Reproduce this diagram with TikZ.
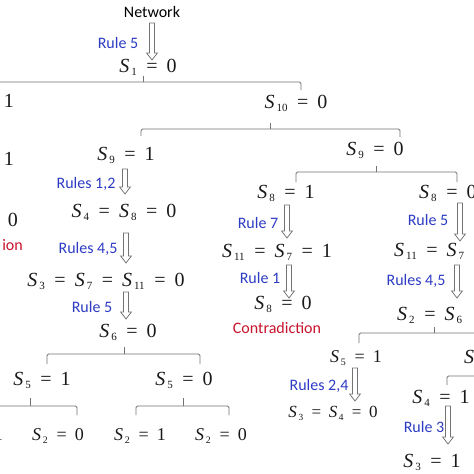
\documentclass[tikz,border=0pt]{standalone}
\usepackage{fontspec}
\setmainfont{Liberation Serif}
\newfontfamily\calfont{Carlito}
\usepackage{graphicx}
\usetikzlibrary{calc}
\definecolor{rulecol}{RGB}{45,60,195}
\definecolor{redc}{RGB}{200,20,45}
\definecolor{lgray}{RGB}{115,115,115}
\definecolor{ink}{RGB}{25,25,25}
\newcommand\Sv[1]{\textit{S}\kern0.1em\raisebox{-0.18em}{\scalebox{0.55}{#1}}}
\newcommand\Eq{\hspace{0.48em}=\hspace{0.45em}}
\begin{document}
\begin{tikzpicture}[x=1pt,y=-1pt,
  m/.style={font=\fontsize{20}{22}\selectfont, text=ink, inner sep=0pt, anchor=base},
  ms/.style={m, font=\fontsize{18}{20}\selectfont},
  mxs/.style={m, font=\fontsize{17}{19}\selectfont},
  lab/.style={font=\calfont\fontsize{16}{18}\selectfont, text=rulecol, inner sep=0pt, anchor=base},
  contra/.style={lab, text=redc},
  br/.style={draw=lgray, line width=0.9pt, rounded corners=1.5pt},
  harrow/.style={draw=lgray, line width=0.75pt, to path={let \p1=(\tikztostart), \p2=(\tikztotarget) in
    (\x2-2.6pt,\y1) -- (\x2-2.6pt,\y2+7pt) -- (\x2-5.4pt,\y2+7pt) -- (\x2,\y2) -- (\x2+5.4pt,\y2+7pt) -- (\x2+2.6pt,\y2+7pt) -- (\x2+2.6pt,\y1) -- cycle}}
]
\useasboundingbox (0,0) rectangle (474,474);
\fill[white] (0,0) rectangle (474,474);

% ---- top ----
\node[lab, text=black] (net) at (152,17) {Network};
\node[lab] (r1) at (118,48) {Rule 5};
\node[m] (s1) at (148,72) {\Sv{1}\Eq 0};
\coordinate (a1t) at (152,23); \coordinate (a1b) at (152,60);
\draw[harrow] (a1t) to (a1b);

% branch under S1
\draw[br] (-40,90) |- (301,82) -- (301,90);
\draw[br] (143,82) -- (143,76);

% ---- left cut column ----
\node[m] (l1) at (9,107) {1};
\node[m] (l2) at (9,165) {1};
\node[m] (l3) at (13,226) {0};
\node[contra, anchor=base east] (cl) at (23,250) {ion};

% ---- S10 = 0 ----
\node[m] (s10) at (296,108) {\Sv{10}\Eq 0};
\draw[br] (141,136) |- (400,129) -- (400,137);
\draw[br] (270,129) -- (270,123);

% ---- left subtree S9 = 1 ----
\node[m] (s9a) at (126,160) {\Sv{9}\Eq 1};
\node[lab] (r2) at (86,188) {Rules 1,2};
\coordinate (a2t) at (125,169); \coordinate (a2b) at (125,194);
\draw[harrow] (a2t) to (a2b);
\node[m] (s4s8) at (124,217) {\Sv{4}\Eq\Sv{8}\Eq 0};
\node[lab] (r3) at (88,253) {Rules 4,5};
\coordinate (a3t) at (126,233); \coordinate (a3b) at (126,263);
\draw[harrow] (a3t) to (a3b);
\node[m] (s3s7) at (106,286) {\Sv{3}\Eq\Sv{7}\Eq\Sv{11}\Eq 0};
\node[lab] (r4) at (92,312) {Rule 5};
\coordinate (a4t) at (126,292); \coordinate (a4b) at (126,319);
\draw[harrow] (a4t) to (a4b);
\node[m] (s6) at (128,337) {\Sv{6}\Eq 0};
\draw[br] (47,364) |- (200,354) -- (200,364);
\draw[br] (124,354) -- (124,347);
\node[m] (s5a) at (42,385) {\Sv{5}\Eq 1};
\node[m] (s5b) at (184,385) {\Sv{5}\Eq 0};
\draw[br] (-30,414) |- (77,406) -- (77,415);
\draw[br] (30,406) -- (30,398);
\draw[br] (136,415) |- (229,406) -- (229,415);
\draw[br] (183,406) -- (183,398);
\node[ms, anchor=base east] (l4) at (3,440) {1};
\node[ms] (s2a) at (58,440) {\Sv{2}\Eq 0};
\node[ms] (s2b) at (140,440) {\Sv{2}\Eq 1};
\node[ms] (s2c) at (221,440) {\Sv{2}\Eq 0};

% ---- right subtree S9 = 0 ----
\node[m] (s9b) at (375,155) {\Sv{9}\Eq 0};
\draw[br] (296,182) |- (457,172) -- (457,182);
\draw[br] (376,172) -- (376,166);

\node[m] (s8a) at (286,198) {\Sv{8}\Eq 1};
\node[lab] (r5) at (258,228) {Rule 7};
\coordinate (a5t) at (287,205); \coordinate (a5b) at (287,238);
\draw[harrow] (a5t) to (a5b);
\node[m] (s11s7a) at (277,257) {\Sv{11}\Eq\Sv{7}\Eq 1};
\node[lab] (r6) at (260,283) {Rule 1};
\coordinate (a6t) at (289,265); \coordinate (a6b) at (289,298);
\draw[harrow] (a6t) to (a6b);
\node[m] (s8c) at (283,309) {\Sv{8}\Eq 0};
\node[contra] (con) at (277,333) {Contradiction};

\node[m, anchor=base west] (s8b) at (419,198) {\Sv{8}\Eq 0};
\node[lab] (r7) at (428,225) {Rule 5};
\coordinate (a7t) at (460,203); \coordinate (a7b) at (460,241);
\draw[harrow] (a7t) to (a7b);
\node[m, anchor=base west] (s11s7b) at (394,256) {\Sv{11}\Eq\Sv{7}};
\node[lab] (r8) at (416,285) {Rules 4,5};
\coordinate (a8t) at (457,265); \coordinate (a8b) at (457,298);
\draw[harrow] (a8t) to (a8b);
\node[m, anchor=base west] (s2s6) at (397,320) {\Sv{2}\Eq\Sv{6}};
\draw[br] (359,343) |- (520,333);
\draw[br] (434,333) -- (434,327);

\node[ms] (s5c) at (356,362) {\Sv{5}\Eq 1};
\node[m, anchor=base west] (s5d) at (464,363) {\Sv{5}};
\node[lab] (r9) at (319,390) {Rules 2,4};
\coordinate (a9t) at (355,368); \coordinate (a9b) at (355,401);
\draw[harrow] (a9t) to (a9b);
\node[mxs] (s3s4) at (333,417) {\Sv{3}\Eq\Sv{4}\Eq 0};

\draw[br] (447,385) |- (520,376);
\node[m] (s4) at (441,403) {\Sv{4}\Eq 1};
\node[lab] (r10) at (424,432) {Rule 3};
\coordinate (a10t) at (448,406); \coordinate (a10b) at (448,444);
\draw[harrow] (a10t) to (a10b);
\node[m] (s3) at (432,467) {\Sv{3}\Eq 1};
\end{tikzpicture}
\end{document}
